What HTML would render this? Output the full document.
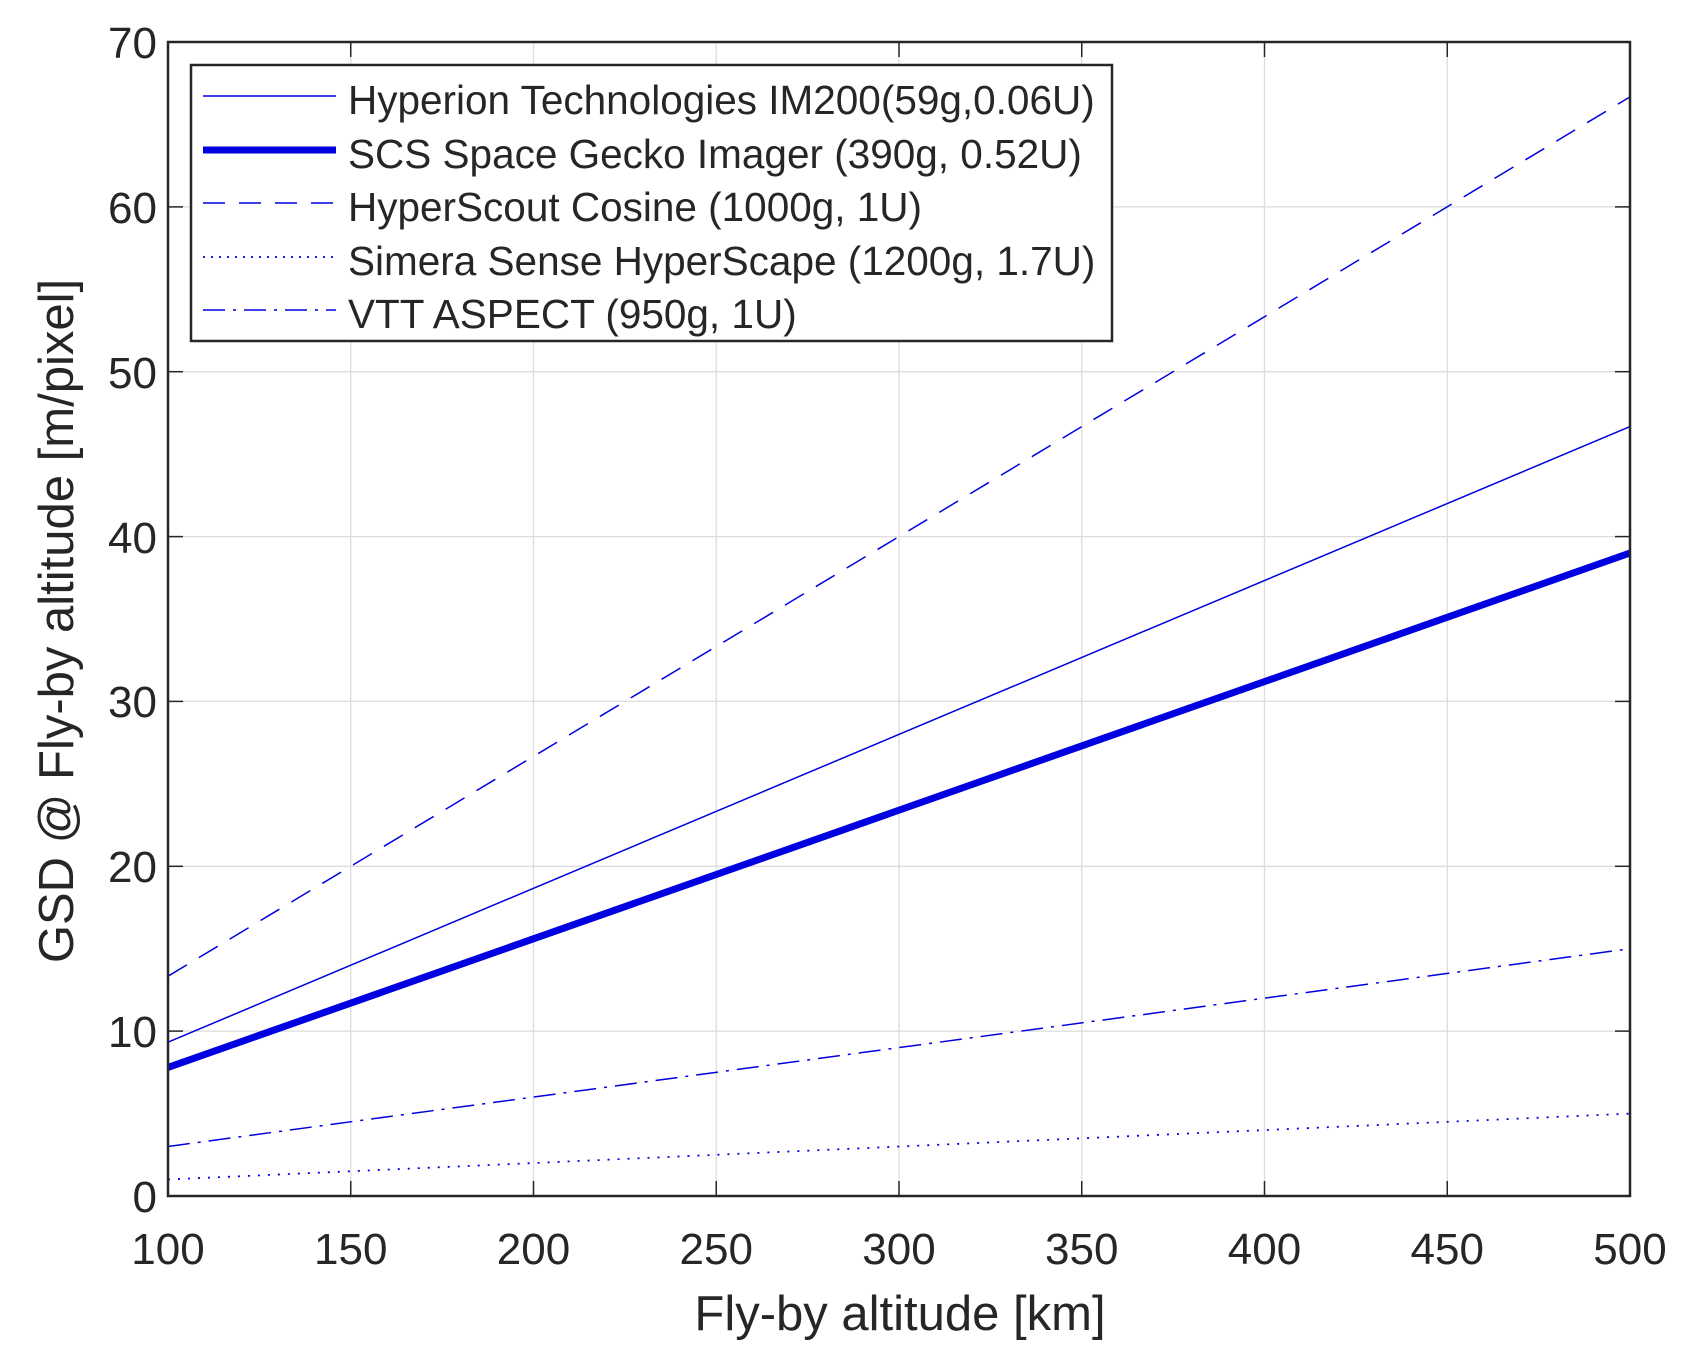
<!DOCTYPE html>
<html><head><meta charset="utf-8"><style>body{margin:0;background:#fff}svg{display:block}</style></head>
<body>
<svg width="1684" height="1360" viewBox="0 0 1684 1360" xmlns="http://www.w3.org/2000/svg" font-family="Liberation Sans, sans-serif">
<rect width="1684" height="1360" fill="#fff"/>
<g stroke="#dcdcdc" stroke-width="1.3">
<line x1="350.75" y1="42" x2="350.75" y2="1196"/><line x1="533.5" y1="42" x2="533.5" y2="1196"/><line x1="716.25" y1="42" x2="716.25" y2="1196"/><line x1="899" y1="42" x2="899" y2="1196"/><line x1="1081.75" y1="42" x2="1081.75" y2="1196"/><line x1="1264.5" y1="42" x2="1264.5" y2="1196"/><line x1="1447.25" y1="42" x2="1447.25" y2="1196"/>
<line x1="168" y1="1031.1" x2="1630" y2="1031.1"/><line x1="168" y1="866.3" x2="1630" y2="866.3"/><line x1="168" y1="701.4" x2="1630" y2="701.4"/><line x1="168" y1="536.6" x2="1630" y2="536.6"/><line x1="168" y1="371.7" x2="1630" y2="371.7"/><line x1="168" y1="206.9" x2="1630" y2="206.9"/>
</g>
<g fill="none" stroke="#0000e0">
<line x1="168" y1="1042.2" x2="1630" y2="426.6" stroke-width="1.5"/>
<line x1="168" y1="1067.4" x2="1630" y2="553" stroke-width="7"/>
<line x1="168" y1="976.2" x2="1630" y2="96.9" stroke-width="1.5" stroke-dasharray="22,14"/>
<line x1="168" y1="1179.5" x2="1630" y2="1113.6" stroke-width="1.8" stroke-dasharray="2,8"/>
<line x1="168" y1="1146.5" x2="1630" y2="948.7" stroke-width="1.5" stroke-dasharray="22,8,3,8"/>
</g>
<g stroke="#262626" stroke-width="1.5">
<line x1="350.75" y1="1196" x2="350.75" y2="1181"/><line x1="533.5" y1="1196" x2="533.5" y2="1181"/><line x1="716.25" y1="1196" x2="716.25" y2="1181"/><line x1="899" y1="1196" x2="899" y2="1181"/><line x1="1081.75" y1="1196" x2="1081.75" y2="1181"/><line x1="1264.5" y1="1196" x2="1264.5" y2="1181"/><line x1="1447.25" y1="1196" x2="1447.25" y2="1181"/>
<line x1="350.75" y1="42" x2="350.75" y2="57"/><line x1="899" y1="42" x2="899" y2="57"/><line x1="1081.75" y1="42" x2="1081.75" y2="57"/><line x1="1264.5" y1="42" x2="1264.5" y2="57"/><line x1="1447.25" y1="42" x2="1447.25" y2="57"/>
<line x1="168" y1="1031.1" x2="183" y2="1031.1"/><line x1="168" y1="866.3" x2="183" y2="866.3"/><line x1="168" y1="701.4" x2="183" y2="701.4"/><line x1="168" y1="536.6" x2="183" y2="536.6"/><line x1="168" y1="371.7" x2="183" y2="371.7"/><line x1="168" y1="206.9" x2="183" y2="206.9"/>
<line x1="1630" y1="1031.1" x2="1615" y2="1031.1"/><line x1="1630" y1="866.3" x2="1615" y2="866.3"/><line x1="1630" y1="701.4" x2="1615" y2="701.4"/><line x1="1630" y1="536.6" x2="1615" y2="536.6"/><line x1="1630" y1="371.7" x2="1615" y2="371.7"/><line x1="1630" y1="206.9" x2="1615" y2="206.9"/>
</g>
<rect x="168" y="42" width="1462" height="1154" fill="none" stroke="#262626" stroke-width="2.5"/>
<rect x="191" y="65" width="921" height="276" fill="#fff" stroke="#262626" stroke-width="2.5"/>
<g fill="none" stroke="#0000e0">
<line x1="203" y1="96" x2="336" y2="96" stroke-width="1.5"/>
<line x1="203" y1="150" x2="336" y2="150" stroke-width="7"/>
<line x1="203" y1="203" x2="336" y2="203" stroke-width="1.5" stroke-dasharray="22,14"/>
<line x1="203" y1="257" x2="336" y2="257" stroke-width="1.8" stroke-dasharray="2,6"/>
<line x1="203" y1="310" x2="336" y2="310" stroke-width="1.5" stroke-dasharray="22,8,3,8"/>
</g>
<g fill="#262626" font-size="40.5">
<text x="348" y="114">Hyperion Technologies IM200(59g,0.06U)</text>
<text x="348" y="168">SCS Space Gecko Imager (390g, 0.52U)</text>
<text x="348" y="221">HyperScout Cosine (1000g, 1U)</text>
<text x="348" y="275">Simera Sense HyperScape (1200g, 1.7U)</text>
<text x="348" y="328">VTT ASPECT (950g, 1U)</text>
</g>
<g fill="#262626" font-size="44" text-anchor="end">
<text x="157" y="1212">0</text><text x="157" y="1047">10</text><text x="157" y="882">20</text><text x="157" y="717">30</text><text x="157" y="553">40</text><text x="157" y="388">50</text><text x="157" y="223">60</text><text x="157" y="58">70</text>
</g>
<g fill="#262626" font-size="44" text-anchor="middle">
<text x="168" y="1264">100</text><text x="350.75" y="1264">150</text><text x="533.5" y="1264">200</text><text x="716.25" y="1264">250</text><text x="899" y="1264">300</text><text x="1081.75" y="1264">350</text><text x="1264.5" y="1264">400</text><text x="1447.25" y="1264">450</text><text x="1630" y="1264">500</text>
<text x="900" y="1330" font-size="49">Fly-by altitude [km]</text>
<text x="0" y="0" font-size="49" transform="translate(73,621) rotate(-90)">GSD @ Fly-by altitude [m/pixel]</text>
</g>
</svg>
</body></html>
